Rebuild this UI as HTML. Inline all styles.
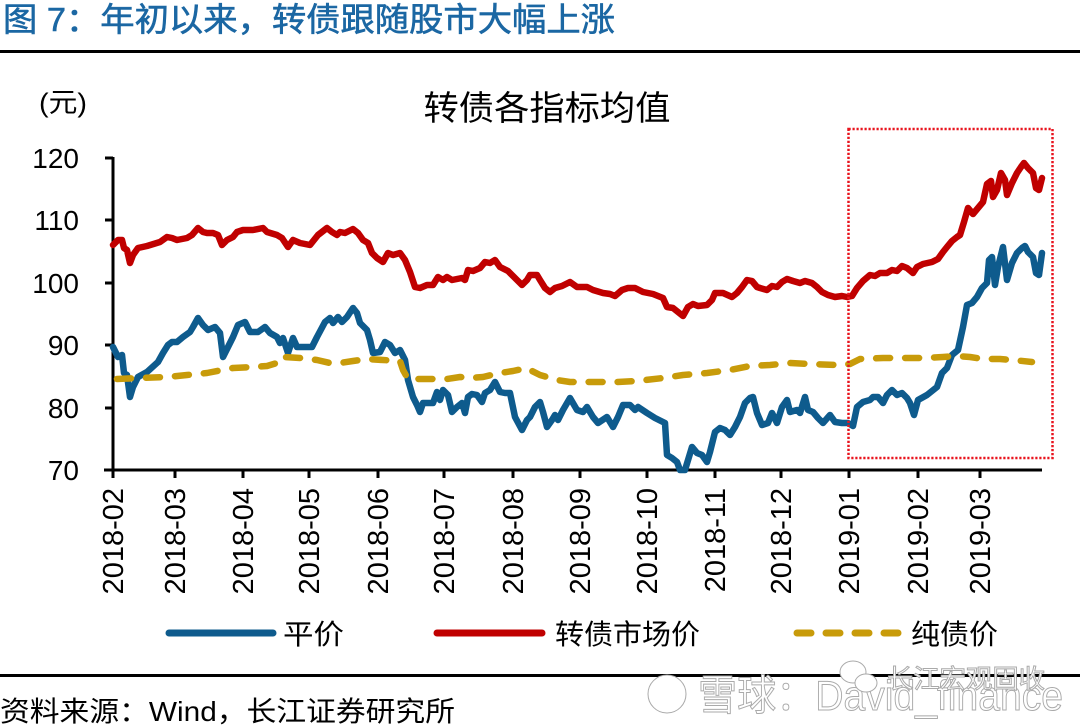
<!DOCTYPE html>
<html><head><meta charset="utf-8"><style>
html,body{margin:0;padding:0;background:#fff;}
body{width:1080px;height:726px;overflow:hidden;}
svg{display:block;}
text{font-family:"Liberation Sans","Noto Sans CJK SC",sans-serif;}
</style></head><body>
<svg width="1080" height="726" viewBox="0 0 1080 726" xmlns="http://www.w3.org/2000/svg">
<rect width="1080" height="726" fill="#fff"/>
<!-- header -->
<text x="3" y="31" font-size="33" fill="#1b67a3" stroke="#1b67a3" stroke-width="0.6" textLength="612" lengthAdjust="spacingAndGlyphs">图 7：年初以来，转债跟随股市大幅上涨</text>
<rect x="0" y="50" width="1080" height="3" fill="#000"/>

<!-- unit & chart title -->
<text x="39" y="112" font-size="27" fill="#000" textLength="48" lengthAdjust="spacingAndGlyphs">(元)</text>
<text x="547" y="120" font-size="34" fill="#000" text-anchor="middle" textLength="247" lengthAdjust="spacingAndGlyphs">转债各指标均值</text>

<!-- y axis labels -->
<g font-size="28" fill="#000" text-anchor="end">
<text x="79" y="168">120</text>
<text x="79" y="230">110</text>
<text x="79" y="293">100</text>
<text x="79" y="355">90</text>
<text x="79" y="418">80</text>
<text x="79" y="480">70</text>
</g>

<!-- axes -->
<g stroke="#000" stroke-width="3" fill="none">
<line x1="113" y1="157" x2="113" y2="471"/>
<line x1="104" y1="470" x2="1042" y2="470"/>
<line x1="105" y1="158" x2="113" y2="158"/>
<line x1="105" y1="220" x2="113" y2="220"/>
<line x1="105" y1="283" x2="113" y2="283"/>
<line x1="105" y1="345" x2="113" y2="345"/>
<line x1="105" y1="408" x2="113" y2="408"/>
<line x1="113" y1="470" x2="113" y2="478"/>
<line x1="175" y1="470" x2="175" y2="478"/>
<line x1="243" y1="470" x2="243" y2="478"/>
<line x1="309" y1="470" x2="309" y2="478"/>
<line x1="378" y1="470" x2="378" y2="478"/>
<line x1="444" y1="470" x2="444" y2="478"/>
<line x1="513" y1="470" x2="513" y2="478"/>
<line x1="580" y1="470" x2="580" y2="478"/>
<line x1="647" y1="470" x2="647" y2="478"/>
<line x1="715" y1="470" x2="715" y2="478"/>
<line x1="781" y1="470" x2="781" y2="478"/>
<line x1="849" y1="470" x2="849" y2="478"/>
<line x1="918" y1="470" x2="918" y2="478"/>
<line x1="980" y1="470" x2="980" y2="478"/>
</g>

<!-- x labels -->
<g font-size="29" fill="#000" text-anchor="end">
<text transform="translate(123,488) rotate(-90)">2018-02</text>
<text transform="translate(185,488) rotate(-90)">2018-03</text>
<text transform="translate(253,488) rotate(-90)">2018-04</text>
<text transform="translate(319,488) rotate(-90)">2018-05</text>
<text transform="translate(388,488) rotate(-90)">2018-06</text>
<text transform="translate(454,488) rotate(-90)">2018-07</text>
<text transform="translate(523,488) rotate(-90)">2018-08</text>
<text transform="translate(590,488) rotate(-90)">2018-09</text>
<text transform="translate(657,488) rotate(-90)">2018-10</text>
<text transform="translate(725,488) rotate(-90)">2018-11</text>
<text transform="translate(791,488) rotate(-90)">2018-12</text>
<text transform="translate(859,488) rotate(-90)">2019-01</text>
<text transform="translate(928,488) rotate(-90)">2019-02</text>
<text transform="translate(990,488) rotate(-90)">2019-03</text>
</g>

<!-- series -->
<g fill="none" stroke-width="6.5" stroke-linejoin="round" stroke-linecap="round">
<polyline stroke="#0e5b8d" points="113,347 118,357 122,355 124,373 127,375 130,397 133,387 138,377 147,372 158,362 163,353 168,345 172,342 177,342 183,337 190,332 193,327 198,318 203,325 208,330 215,327 220,333 223,357 228,347 233,337 238,325 245,322 250,332 258,332 265,327 270,333 277,337 280,343 283,338 288,353 293,338 297,347 300,347 312,347 317,337 325,322 330,318 333,323 338,317 342,322 347,317 353,308 357,313 360,323 367,330 370,340 373,353 380,352 385,342 390,345 395,353 400,350 405,360 408,380 413,397 417,405 420,412 423,403 430,403 433,403 437,392 440,400 443,390 448,395 452,412 457,407 462,403 465,413 468,397 472,394 477,395 482,402 485,393 490,390 495,382 500,392 505,393 510,393 515,417 522,430 527,420 530,417 535,407 540,402 543,412 547,427 552,420 555,415 558,420 563,410 570,398 577,410 583,412 587,407 593,417 598,423 607,417 613,427 618,417 623,405 630,405 635,410 638,407 647,413 655,418 665,423 667,455 672,458 677,462 680,470 685,470 692,447 697,453 702,455 707,462 710,452 715,432 720,428 725,430 730,435 735,427 740,417 745,403 750,398 753,397 757,413 762,425 768,423 772,413 777,423 782,407 787,400 790,412 797,410 800,413 805,397 808,410 813,412 818,418 823,423 830,415 835,422 842,423 848,423 853,426 857,407 863,402 870,400 873,397 878,397 883,403 887,395 892,390 897,395 902,393 907,398 910,403 914,415 918,400 927,395 937,387 942,373 947,368 952,355 958,350 963,327 967,305 972,303 977,297 982,288 987,283 989,260 992,257 995,285 998,267 1003,247 1007,280 1012,263 1017,253 1022,248 1025,246 1028,252 1033,257 1036,273 1039,275 1042,253"/>
<polyline stroke="#c00000" points="113,245 118,240 122,240 124,248 127,250 130,263 133,255 138,248 147,246 160,242 167,237 172,238 177,240 187,238 192,235 198,228 203,232 207,233 213,233 218,235 222,245 227,240 233,237 237,232 243,230 253,230 263,228 267,232 277,235 282,238 288,247 293,240 300,243 310,245 318,235 327,228 332,232 337,235 340,232 345,233 353,229 358,233 363,240 368,243 372,253 377,258 383,262 388,253 393,255 400,253 405,260 410,272 415,287 420,288 427,285 433,285 438,277 443,280 447,277 452,280 462,278 465,280 468,270 473,271 480,268 485,262 490,263 495,260 500,267 508,271 515,278 522,285 527,280 530,275 537,275 540,280 545,288 550,292 555,288 562,286 570,282 577,287 587,287 593,290 603,293 610,294 615,296 622,290 628,288 635,288 643,292 653,294 663,298 667,307 673,308 678,312 683,316 688,307 693,304 698,306 707,305 712,300 715,293 723,293 732,297 737,293 742,287 747,280 752,281 757,287 760,288 767,290 772,286 777,287 782,282 787,279 793,281 800,283 805,281 812,283 817,287 822,292 828,295 835,297 842,296 847,297 852,296 857,288 863,281 870,275 875,276 880,273 887,273 892,270 897,271 902,266 907,268 913,273 917,267 923,264 932,262 938,259 943,252 947,247 952,241 957,237 960,235 964,222 968,208 973,214 978,208 983,202 987,184 991,181 993,197 997,190 1001,173 1005,180 1007,195 1012,183 1017,173 1021,167 1024,163 1028,168 1033,173 1036,188 1039,190 1042,178"/>
<polyline stroke="#c89b0a" stroke-dasharray="14 15" points="117,379 140,378 167,377 187,375 207,373 222,370 233,368 253,367 267,366 277,363 280,357 283,357 300,358 317,360 330,363 340,363 353,361 367,359 383,360 400,361 403,370 408,379 420,379 447,379 460,377 470,378 483,377 500,373 513,371 527,368 530,370 540,375 557,380 570,382 587,382 617,382 637,381 663,378 683,375 707,373 730,370 750,366 770,365 790,363 810,364 837,365 850,364 860,359 883,358 900,358 923,358 943,357 957,356 970,357 983,359 1000,359 1013,360 1032,362"/>
</g>

<!-- red dotted box -->
<rect x="848.5" y="129" width="204" height="329" fill="none" stroke="#e8141e" stroke-width="2.5" stroke-dasharray="2.2 1.8"/>

<!-- legend -->
<g stroke-width="7" stroke-linecap="round" fill="none">
<line x1="169" y1="633" x2="273" y2="633" stroke="#0e5b8d"/>
<line x1="437" y1="633" x2="542" y2="633" stroke="#c00000"/>
<line x1="797" y1="633" x2="898" y2="633" stroke="#c89b0a" stroke-dasharray="14 15"/>
</g>
<g font-size="28" fill="#000">
<text x="283" y="644" textLength="61" lengthAdjust="spacingAndGlyphs">平价</text>
<text x="555" y="644" textLength="145" lengthAdjust="spacingAndGlyphs">转债市场价</text>
<text x="911" y="644" textLength="87" lengthAdjust="spacingAndGlyphs">纯债价</text>
</g>

<!-- bottom line & source -->
<rect x="0" y="674" width="1080" height="3" fill="#000"/>
<text x="0" y="721" font-size="28" fill="#000" textLength="455" lengthAdjust="spacingAndGlyphs">资料来源：Wind，长江证券研究所</text>

<!-- watermark -->
<g fill="#fff" stroke="#aaa" stroke-width="1">
<circle cx="667" cy="694" r="19"/>
<text x="698" y="710" font-size="42" textLength="365" lengthAdjust="spacingAndGlyphs">雪球：David_finance</text>
<ellipse cx="853" cy="672" rx="13" ry="11"/>
<ellipse cx="866" cy="683" rx="11" ry="9"/>
<text x="887" y="688" font-size="26" textLength="158" lengthAdjust="spacingAndGlyphs">长江宏观固收</text>
</g>
</svg>
</body></html>
